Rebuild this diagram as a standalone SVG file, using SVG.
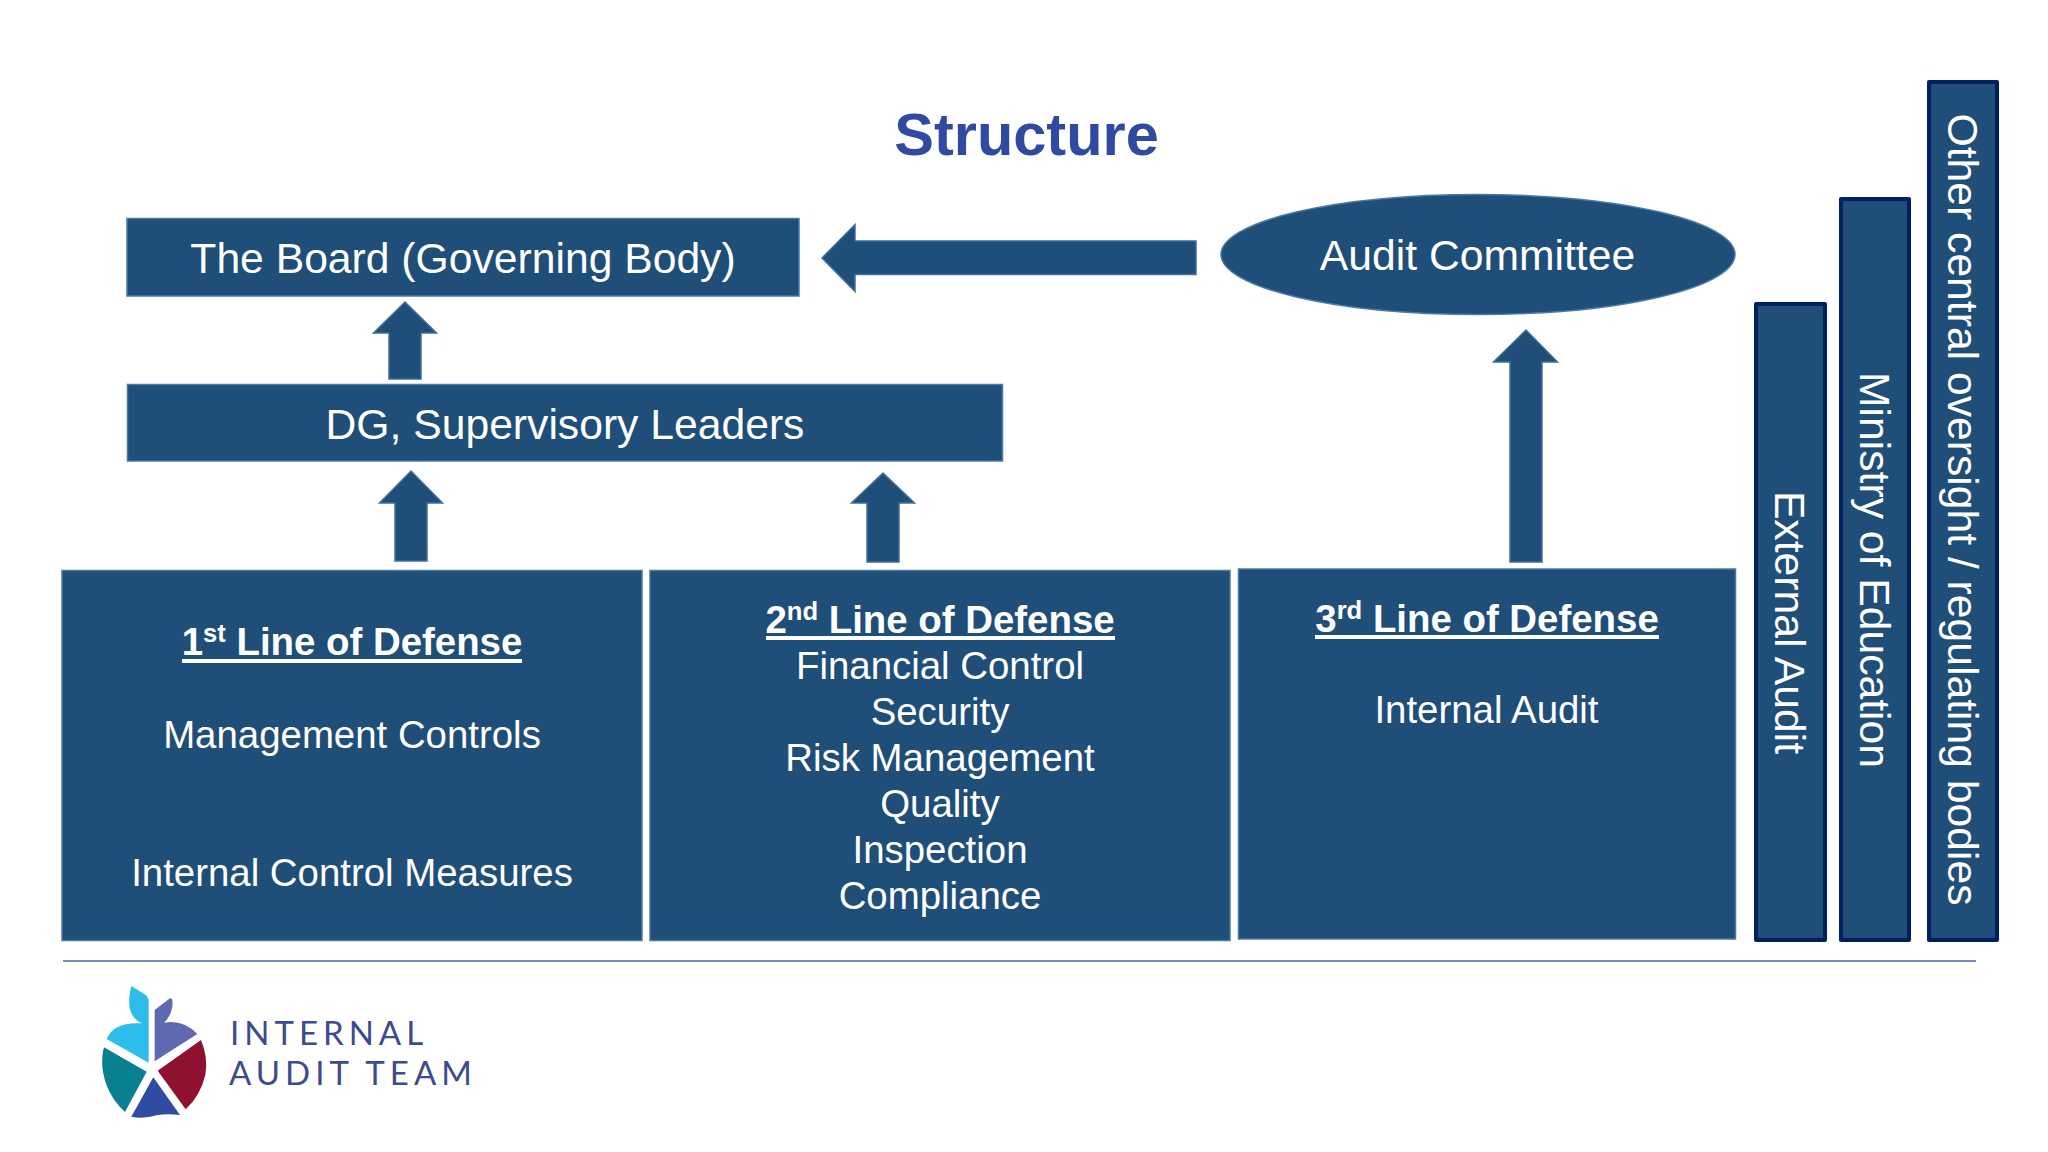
<svg xmlns="http://www.w3.org/2000/svg" width="2048" height="1152" viewBox="0 0 2048 1152">
<style>
text{font-family:"Liberation Sans",Arial,sans-serif;fill:#fff;text-anchor:middle}
.box{fill:#1f4e79;stroke:#4a7aa5;stroke-width:1.500}
.bar{fill:#1f4e79;stroke:#002060;stroke-width:4;stroke-linejoin:round}
.arr{fill:#1f4e79;stroke:#3f6f9c;stroke-width:1.500}
.t42{font-size:42.670px}
.t38{font-size:38.400px}
.h{font-size:38.400px;font-weight:bold}
.sup{font-size:25.600px;baseline-shift:12.800px}
.ul{fill:#fff}
.logo{font-family:Lato,"Liberation Sans",sans-serif;fill:#3d4b8e;font-size:33px;letter-spacing:5px;text-anchor:start}
</style>
<rect width="2048" height="1152" fill="#fff"/>
<text id="title" x="1026.500" y="154.500" font-size="59.500" font-weight="bold" style="fill:#2f4aa0">Structure</text>
<g id="connectors">
<polygon class="arr" points="822,258 855,224.500 855,241 1196,241 1196,274.500 855,274.500 855,291.500"/>
<polygon class="arr" points="405,302 436.500,333 421,333 421,379 389,379 389,333 373.500,333"/>
<polygon class="arr" points="411,471 442.500,503 427,503 427,561 395,561 395,503 379.500,503"/>
<polygon class="arr" points="883,473 914.500,503 899,503 899,562 867,562 867,503 851.500,503"/>
<polygon class="arr" points="1526,330 1557.500,362 1542,362 1542,562 1510,562 1510,362 1493.500,362"/>
</g>
<g id="board"><rect class="box" x="127" y="218.500" width="672" height="77.500"/><text class="t42" x="463" y="273">The Board (Governing Body)</text></g>
<g id="dg"><rect class="box" x="127.500" y="384.500" width="875" height="76.500"/><text class="t42" x="565" y="438.500">DG, Supervisory Leaders</text></g>
<g id="audit-committee"><ellipse class="box" cx="1478" cy="254.500" rx="257" ry="60"/><text class="t42" x="1477.500" y="270">Audit Committee</text></g>
<g id="line1"><rect class="box" x="62" y="570.500" width="580" height="370"/>
<text class="h" x="352" y="655">1<tspan class="sup">st</tspan> Line of Defense</text><rect class="ul" x="182" y="659" width="340" height="4"/>
<text class="t38" x="352" y="748">Management Controls</text>
<text class="t38" x="352" y="886">Internal Control Measures</text></g>
<g id="line2"><rect class="box" x="650" y="570.500" width="580" height="370"/>
<text class="h" x="940" y="632.500">2<tspan class="sup">nd</tspan> Line of Defense</text><rect class="ul" x="766" y="636" width="349" height="4"/>
<text class="t38" x="940" y="678.500">Financial Control</text>
<text class="t38" x="940" y="724.500">Security</text>
<text class="t38" x="940" y="770.500">Risk Management</text>
<text class="t38" x="940" y="816.500">Quality</text>
<text class="t38" x="940" y="862.500">Inspection</text>
<text class="t38" x="940" y="908.500">Compliance</text></g>
<g id="line3"><rect class="box" x="1238.500" y="569" width="497" height="370"/>
<text class="h" x="1487" y="631.500">3<tspan class="sup">rd</tspan> Line of Defense</text><rect class="ul" x="1315" y="635" width="344" height="4"/>
<text class="t38" x="1486.500" y="723">Internal Audit</text></g>
<g id="external-audit"><rect class="bar" x="1756" y="304" width="69" height="636"/><text class="t42" transform="translate(1775,622.500) rotate(90)">External Audit</text></g>
<g id="ministry"><rect class="bar" x="1841" y="199" width="68" height="741"/><text class="t42" transform="translate(1860,570) rotate(90)">Ministry of Education</text></g>
<g id="oversight"><rect class="bar" x="1929" y="82" width="68" height="858"/><text class="t42" transform="translate(1947.500,509.500) rotate(90)">Other central oversight / regulating bodies</text></g>
<line id="rule" x1="63" y1="961" x2="1976" y2="961" stroke="#4a6a9f" stroke-width="1.500"/>
<g id="logo">
<g transform="translate(60,960) scale(.3333)">
<path fill="#2dbdea" d="M215 78 L258 106 Q266 112 266 130 V308 L140 237 Q160 185 246 190 Q200 170 209 105 Q210 88 215 78Z"/>
<path fill="#6068b4" d="M284 150 L330 115 Q340 112 337 140 Q332 170 312 188 Q370 178 412 222 L284 304Z"/>
<path fill="#8e1230" d="M423 240 Q445 290 436 345 Q420 410 377 448 L293 332Z"/>
<path fill="#08808f" d="M132 262 L260 335 L195 456 Q135 400 127 320 Q125 285 132 262Z"/>
<path fill="#2f4ba2" d="M280 352 L360 465 Q320 460 290 466 Q250 478 214 470Z"/>
</g>
<text class="logo" x="230" y="1045">INTERNAL</text>
<text class="logo" x="229" y="1085">AUDIT TEAM</text>
</g>
</svg>
